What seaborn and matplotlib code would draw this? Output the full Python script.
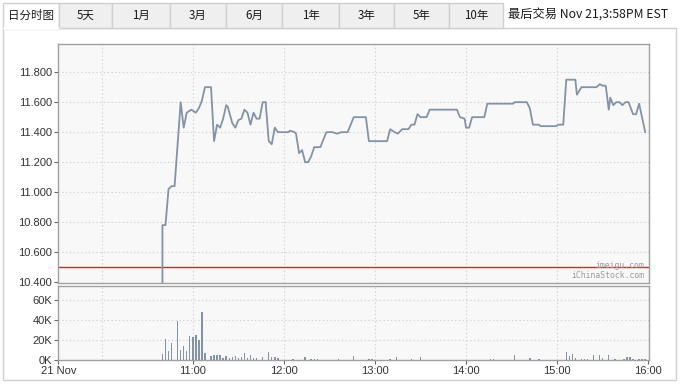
import matplotlib
matplotlib.use("Agg")
import matplotlib.pyplot as plt
from matplotlib.patches import Rectangle
from matplotlib.lines import Line2D
import seaborn as sns
import pandas as pd

# ---------------- data ----------------
price_times = ["10:40", "10:40", "10:42", "10:44", "10:46", "10:48", "10:52", "10:54", "10:56", "10:59",
               "11:02", "11:04", "11:06", "11:08", "11:12", "11:14", "11:16", "11:18", "11:20", "11:22",
               "11:23", "11:26", "11:28", "11:30", "11:32", "11:34", "11:36", "11:38", "11:40", "11:42",
               "11:44", "11:46", "11:48", "11:50", "11:52", "11:54", "11:56", "12:03", "12:04", "12:07",
               "12:08", "12:10", "12:12", "12:14", "12:16", "12:18", "12:20", "12:24", "12:28", "12:32",
               "12:35", "12:38", "12:42", "12:46", "12:54", "12:56", "13:08", "13:10", "13:13", "13:15",
               "13:18", "13:22", "13:24", "13:26", "13:28", "13:30", "13:34", "13:36", "13:54", "13:56",
               "13:59", "14:00", "14:02", "14:04", "14:12", "14:14", "14:31", "14:32", "14:40", "14:42",
               "14:44", "14:48", "14:49", "14:59", "15:01", "15:04", "15:06", "15:12", "15:13", "15:16",
               "15:26", "15:28", "15:30", "15:32", "15:34", "15:35", "15:37", "15:39", "15:41", "15:43",
               "15:45", "15:47", "15:50", "15:52", "15:54", "15:58"]
price_values = [10.39, 10.78, 10.78, 11.02, 11.04, 11.04, 11.60, 11.43, 11.53, 11.55,
                11.53, 11.56, 11.61, 11.70, 11.70, 11.34, 11.45, 11.43, 11.49, 11.58,
                11.57, 11.46, 11.43, 11.48, 11.49, 11.55, 11.53, 11.45, 11.53, 11.49,
                11.49, 11.60, 11.60, 11.34, 11.32, 11.43, 11.40, 11.40, 11.41, 11.40,
                11.39, 11.26, 11.28, 11.20, 11.20, 11.24, 11.30, 11.30, 11.40, 11.40,
                11.39, 11.40, 11.40, 11.50, 11.50, 11.34, 11.34, 11.42, 11.40, 11.39,
                11.42, 11.42, 11.45, 11.45, 11.52, 11.50, 11.50, 11.55, 11.55, 11.50,
                11.49, 11.43, 11.43, 11.50, 11.50, 11.59, 11.59, 11.60, 11.60, 11.56,
                11.45, 11.45, 11.44, 11.44, 11.45, 11.45, 11.75, 11.75, 11.65, 11.70,
                11.70, 11.72, 11.71, 11.71, 11.55, 11.63, 11.58, 11.60, 11.60, 11.58,
                11.60, 11.60, 11.52, 11.52, 11.59, 11.40]

vol_times = ["10:40", "10:42", "10:44", "10:46", "10:50", "10:52", "10:54", "10:56", "10:58", "11:00",
             "11:02", "11:04", "11:06", "11:08", "11:12", "11:14", "11:16", "11:18", "11:20", "11:22",
             "11:24", "11:26", "11:28", "11:30", "11:32", "11:34", "11:36", "11:38", "11:40", "11:42",
             "11:46", "11:50", "11:52", "11:54", "11:56", "12:06", "12:14", "12:18", "12:20", "12:22",
             "12:36", "12:46", "12:56", "12:58", "13:10", "13:14", "13:24", "13:30", "14:16", "14:18",
             "14:32", "14:42", "14:48", "15:06", "15:08", "15:10", "15:12", "15:16", "15:18", "15:20",
             "15:24", "15:28", "15:30", "15:34", "15:38", "15:44", "15:46", "15:48", "15:50", "15:54",
             "15:56", "15:58"]
vol_values_k = [6, 21, 9, 17, 39, 9.5, 14, 8.5, 24, 23,
                25, 20, 48, 6.5, 4, 5, 5, 5, 2, 3.5,
                1.5, 3, 3.5, 1.5, 3, 6.5, 1.5, 5, 2, 1.5,
                3, 7.5, 2.5, 2.5, 1.5, 0.7, 2.5, 1, 1, 1,
                1, 3.5, 1, 1, 1, 2.5, 1, 2.5, 1, 1,
                4.5, 2, 1, 8, 4, 6, 1.5, 1, 1, 1,
                5, 5, 1.5, 4.5, 1, 1, 2.5, 2.5, 1, 1,
                1, 1]

price_ticks = [10.4, 10.6, 10.8, 11.0, 11.2, 11.4, 11.6, 11.8]
vol_ticks_k = [0, 20, 40, 60]
x_tick_times = ["09:31", "11:00", "12:00", "13:00", "14:00", "15:00", "16:00"]
x_tick_labels = ["21 Nov", "11:00", "12:00", "13:00", "14:00", "15:00", "16:00"]
prev_close = 10.5
tabs = ["日分时图", "5天", "1月", "3月", "6月", "1年", "3年", "5年", "10年"]
last_trade = "最后交易 Nov 21,3:58PM EST"


def to_min(t):
    h, m = t.split(":")
    return (int(h) - 9) * 60 + int(m) - 30


# ---------------- figure ----------------
sns.set_theme(style="white")
plt.rcParams["font.family"] = ["Liberation Sans", "Noto Sans CJK SC", "DejaVu Sans"]

W, H = 680, 384
fig = plt.figure(figsize=(W / 100, H / 100), dpi=100)
fig.patch.set_facecolor("white")


def fx(px):
    return px / W


def fy(py):
    return 1 - py / H


# content box (behind the axes)
fig.add_artist(Rectangle((fx(3), fy(380)), fx(673), (380 - 28) / H, transform=fig.transFigure,
                         facecolor="white", edgecolor="#cfcfcf", lw=1, zorder=-10))

# tabs
cjk = ["Noto Sans CJK SC", "DejaVu Sans"]
tab_edges = [3, 58.7, 112, 170, 226, 282, 339, 394, 449, 503]
for i, name in enumerate(tabs):
    x0, x1 = tab_edges[i], tab_edges[i + 1]
    if i == 0:
        fig.add_artist(Rectangle((fx(x0), fy(29)), fx(x1 - x0), 26 / H, transform=fig.transFigure,
                                 facecolor="white", edgecolor="#cfcfcf", lw=1, zorder=-9))
        fig.add_artist(Line2D([fx(x0 + 0.7), fx(x1 - 0.7)], [fy(28.3), fy(28.3)], transform=fig.transFigure,
                              color="white", lw=2, zorder=-8))
    else:
        fig.add_artist(Rectangle((fx(x0), fy(28)), fx(x1 - x0), 25 / H, transform=fig.transFigure,
                                 facecolor="#efefef", edgecolor="#cfcfcf", lw=1, zorder=-9))
    fig.text(fx((x0 + x1) / 2), fy(18.5), name, ha="center", va="baseline", fontsize=8.3, color="#1a1a1a",
             family=cjk, weight="medium")
fig.text(fx(508), fy(18.5), last_trade, ha="left", va="baseline", fontsize=8.8, color="#1a1a1a",
         family=cjk, weight="medium")

# axes
ax = fig.add_axes([fx(58.3), fy(283.3), fx(649 - 58.3), (283.3 - 44) / H])
axv = fig.add_axes([fx(58.3), fy(359.5), fx(649 - 58.3), (359.5 - 285.5) / H])

xlim = (1.4, 390.5)
grid_kw = dict(color="#d2d2d2", lw=0.8, linestyle=(0, (1.2, 2.2)), zorder=0)
spine_col = "#a0a0a0"

df = pd.DataFrame({"t": [to_min(t) for t in price_times], "price": price_values})
for a in (ax, axv):
    a.set_facecolor("#f8f8f8")
    a.set_xlim(*xlim)
    for s in a.spines.values():
        s.set_color(spine_col)
        s.set_linewidth(1.0)
    for hh in ["10:00", "11:00", "12:00", "13:00", "14:00", "15:00"]:
        a.axvline(to_min(hh), **grid_kw)

# price panel
for v in price_ticks[1:]:
    ax.axhline(v, **grid_kw)
ax.axhline(prev_close, color="#cc2a2a", lw=1.0, zorder=2)
sns.lineplot(data=df, x="t", y="price", ax=ax, estimator=None, sort=False, color="#8393a6", lw=1.3, zorder=3)
ax.set_ylim(10.392, 11.988)
ax.set_yticks(price_ticks)
ax.set_yticklabels([f"{v:.3f}" for v in price_ticks])
ax.set_xticks([])
ax.set_xlabel("")
ax.set_ylabel("")
ax.tick_params(axis="y", left=True, length=3, width=0.8, color="#666666", pad=1.5, labelsize=8, labelcolor="#333333")

ax.text(0.992, 0.075, "imeigu.com", transform=ax.transAxes, ha="right", va="center", fontsize=5.9,
        color="#9a9a9a", family="DejaVu Sans Mono")
ax.text(0.992, 0.033, "iChinaStock.com", transform=ax.transAxes, ha="right", va="center", fontsize=5.9,
        color="#9a9a9a", family="DejaVu Sans Mono")

# volume panel
for v in vol_ticks_k[1:]:
    axv.axhline(v, **grid_kw)
axv.bar([to_min(t) for t in vol_times], vol_values_k, width=0.95, color="#8393a6", edgecolor="none",
        linewidth=0, zorder=3)
axv.set_ylim(0, 74)
axv.set_yticks(vol_ticks_k)
axv.set_yticklabels([f"{v}K" for v in vol_ticks_k])
axv.set_xticks([to_min(t) if t != "09:31" else xlim[0] for t in x_tick_times])
axv.set_xticklabels(x_tick_labels)
axv.tick_params(axis="both", left=True, bottom=True, length=3, width=0.8, color="#666666", pad=1.5,
                labelsize=8, labelcolor="#333333")

fig.savefig("out.png", dpi=100, facecolor="white")
